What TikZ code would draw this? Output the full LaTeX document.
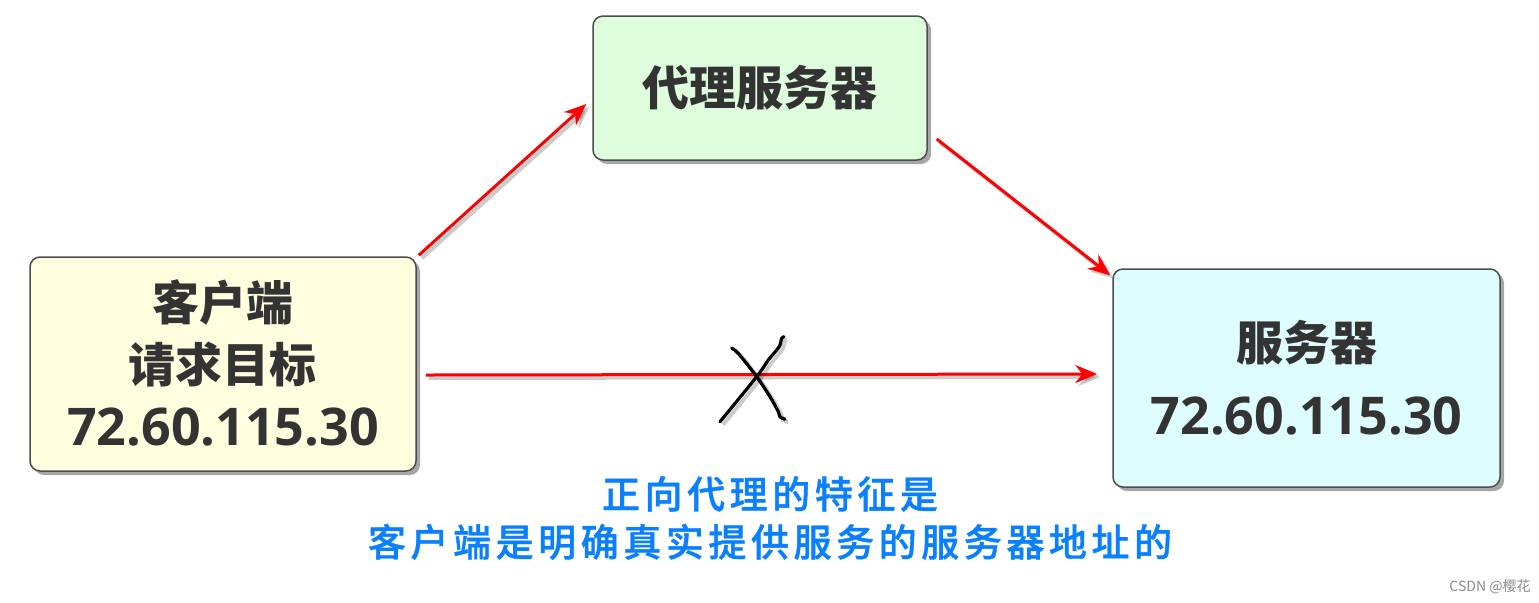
\documentclass[tikz,border=0pt]{standalone}
\usepackage{fontspec}
\setmainfont{Noto Sans CJK SC}
\newfontfamily\cjk{Noto Sans CJK SC}
\newfontfamily\dig{Open Sans}
\newfontfamily\bluefont{Noto Sans CJK SC Medium}[LetterSpace=12, FakeBold=1]
\usetikzlibrary{shadows,arrows.meta,calc}
\definecolor{txt}{HTML}{333333}
\definecolor{boxline}{HTML}{4D4D4D}
\definecolor{yelfill}{HTML}{FFFFE0}
\definecolor{grnfill}{HTML}{DDFDDD}
\definecolor{cyafill}{HTML}{DEFDFF}
\definecolor{bluetxt}{HTML}{0A80FF}
\begin{document}
\begin{tikzpicture}[x=0.5pt,y=-0.5pt,
  box/.style={draw=boxline, line width=0.75pt, rounded corners=5pt, inner sep=0pt,
    align=center, text=txt,
    drop shadow={shadow xshift=2pt, shadow yshift=-2pt, fill=black, opacity=0.35}},
  arr/.style={draw=red, line width=1.5pt, -{Stealth[length=11pt,width=9pt]},
    preaction={draw=black, opacity=0.2, line width=2pt, transform canvas={shift={(1.5pt,-1.5pt)}}}},
  cross/.style={draw=black, line width=1.6pt, line cap=round, line join=round,
    preaction={draw=black, opacity=0.2, line width=2pt, transform canvas={shift={(1.5pt,-1.5pt)}}}}]
\useasboundingbox (0,0) rectangle (1539,602);
\fill[white] (0,0) rectangle (1539,602);

% boxes
\node[box, fill=yelfill, minimum width=193pt, minimum height=107pt,
  font=\cjk\bfseries\fontsize{23.5}{31}\selectfont] (client) at (223,364)
  {\raisebox{2pt}{客户端}\\\raisebox{2pt}{请求目标}\\\raisebox{1.5pt}{\dig\bfseries\fontsize{26}{31}\selectfont 72.60.115.30}};
\node[box, fill=grnfill, minimum width=167pt, minimum height=72pt,
  font=\cjk\bfseries\fontsize{23.5}{31}\selectfont] (proxy) at (760,88)
  {代理服务器};
\node[box, fill=cyafill, minimum width=193.5pt, minimum height=109pt,
  font=\cjk\bfseries\fontsize{23.5}{36}\selectfont] (server) at (1306.5,378)
  {\raisebox{2pt}{服务器}\\\raisebox{1pt}{\dig\bfseries\fontsize{26}{36}\selectfont 72.60.115.30}};

% arrows
\draw[arr] ($(client.north east)+(2,-1)$) -- ($(proxy.west)+(-6,16)$);
\draw[arr] ($(proxy.east)+(9,51)$) -- ($(server.north west)+(-2,7)$);
\draw[arr] ($(client.east)+(9,11)$) -- ($(server.west)+(-15,-4)$);

% hand-drawn cross
\draw[cross]
  plot[smooth] coordinates {(731.7,348.3) (738.3,353.3) (756.7,376.7) (770,396.7) (778.3,411.7) (780,416.7) (785,419.3)};
\draw[cross]
  plot[smooth] coordinates {(720,421.7) (756.7,376.7) (768.3,360) (776.7,350) (780,345) (781.7,338.3) (784,336.7)};

% caption
\node[align=center, text=bluetxt, font=\bluefont\fontsize{19}{24}\selectfont, inner sep=0pt] (caption) at (770,518)
  {正向代理的特征是\\客户端是明确真实提供服务的服务器地址的};

% watermark
\node[text=black!45, font=\cjk\fontsize{7}{8}\selectfont, inner sep=0pt] (wm) at (1490,587) {CSDN @樱花};
\end{tikzpicture}
\end{document}
